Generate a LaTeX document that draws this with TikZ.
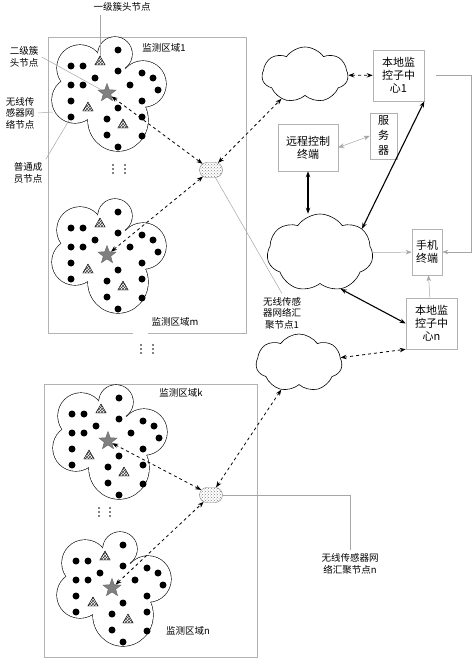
\documentclass[tikz,border=0pt]{standalone}
\usepackage{fontspec}
\setmainfont{Noto Sans CJK SC}
\usetikzlibrary{positioning}
\usetikzlibrary{arrows,arrows.meta,patterns}
\usetikzlibrary{shapes.geometric,shapes.symbols,shapes.misc}

\tikzset{
  sdot/.style={circle,fill=black,inner sep=0pt,minimum size=7pt},
  htri/.style={regular polygon,regular polygon sides=3,draw,line width=0.4pt,
    pattern=crosshatch,pattern color=black!75,inner sep=0pt,minimum size=12pt},
  hstar/.style={star,star points=5,star point ratio=2.4,fill=gray,draw=gray!80!black,
    inner sep=0pt,minimum size=19pt},
  aggnode/.style={rounded rectangle,draw=gray,pattern=crosshatch dots,pattern color=gray,
    minimum width=23pt,minimum height=15pt,inner sep=0pt},
  netcloud/.style={cloud,cloud puffs=7,cloud puff arc=110,draw,line width=0.6pt,inner sep=0pt},
  cbox/.style={draw=gray!60,line width=0.6pt,align=center,inner sep=1pt,
    font=\fontsize{11}{13}\selectfont},
  regbox/.style={draw=gray!60,line width=0.6pt},
  dasharrow/.style={<->,dashed,line width=0.8pt},
  boldarrow/.style={<->,line width=1.1pt},
  grayarrow/.style={->,draw=gray!70,line width=0.5pt},
  leader/.style={draw=gray!70,line width=0.5pt}
}

% one sensor cluster: name, x shift, y shift
\newcommand{\cluster}[3]{%
  \begin{scope}[shift={(#2,#3)}]
    \foreach \cx/\cy/\rad in {115/54/17,80/68/23,75/100/23,143/84/23,108/88/26}
      \draw[line width=1.2pt] (\cx,\cy) circle[radius=\rad];
    \draw[line width=1.2pt] (118,120) ellipse[x radius=30,y radius=31];
    \foreach \cx/\cy/\rad in {115/54/17,80/68/23,75/100/23,143/84/23,108/88/26}
      \fill[white] (\cx,\cy) circle[radius=\rad];
    \fill[white] (118,120) ellipse[x radius=30,y radius=31];
    \coordinate (#1-edge) at (53,112);
    \foreach \px/\py [count=\i] in {118/50,71/66,83/66,118/71,142/73,153/78,95/78,
        71/85,83/85,130/85,158/90,71/101,142/101,118/108,71/117,107/119,142/117,
        107/135,142/136,118/147}
      \node[sdot] (#1-d\i) at (\px,\py) {};
    \foreach \px/\py [count=\i] in {100/62,88/108,123/125}
      \node[htri] (#1-t\i) at (\px,\py) {};
    \node[hstar] (#1) at (107,93) {};
  \end{scope}}

\begin{document}
\begin{tikzpicture}[x=1pt,y=-1pt,>={Stealth[length=6pt,width=4.5pt]},
    font=\fontsize{9.5}{11.5}\selectfont]
\useasboundingbox (0,0) rectangle (474,661);

% monitoring regions
\draw[regbox] (133,333) -- (48,333) -- (48,37) -- (246,37) -- (246,333) -- (148,333);
\draw[regbox] (44,384) rectangle (257,657);

\cluster{c1}{0}{0}
\cluster{cm}{0}{162}
\cluster{ck}{1}{348}
\cluster{cn}{5}{495}

% sink nodes
\node[aggnode] (agg1) at (211,170) {};
\node[aggnode] (aggn) at (211,495) {};

% networks
\node[netcloud,minimum width=86pt,minimum height=56pt] (cloudA) at (305,75) {};
\node[netcloud,minimum width=106pt,minimum height=78pt] (cloudB) at (320,253) {};
\node[netcloud,minimum width=86pt,minimum height=58pt] (cloudC) at (299,363) {};

% centres and terminals
\node[cbox,minimum width=51pt,minimum height=51pt] (local1) at (398.5,75.5) {本地监\\控子中\\心1};
\node[cbox,minimum width=60pt,minimum height=47pt] (remote) at (308,147.5) {远程控制\\终端};
\node[cbox,minimum width=27pt,minimum height=46pt] (server) at (383.5,136) {服\\[2pt]务\\[2pt]器};
\node[cbox,minimum width=30pt,minimum height=46pt] (phone) at (427,252) {手机\\终端};
\node[cbox,minimum width=51pt,minimum height=51pt] (localn) at (431.5,323.5) {本地监\\控子中\\心n};
\coordinate (turn) at (471,75.5);

% labels
\node (lab1) at (122,7) {一级簇头节点};
\node[align=center] (lab2) at (24,57) {二级簇\\头节点};
\node[align=center] (lab3) at (20,113) {无线传\\感器网\\络节点};
\node[align=center] (lab4) at (28,173) {普通成\\员节点};
\node (reg1) at (164,48) {监测区域1};
\node (regm) at (175,322) {监测区域m};
\node (regk) at (181,393) {监测区域k};
\node (regn) at (188,631) {监测区域n};
\node[align=center] (labagg1) at (282,313) {无线传感\\器网络汇\\聚节点1};
\node[align=center] (labaggn) at (350,564) {无线传感器网\\络汇聚节点n};

% vertical ellipses
\foreach \px/\py in {113/169,125/169,141/349,153/349,99/512,110/512}
  \foreach \dy in {-4,0,4}
    \fill (\px,\py+\dy) circle[radius=0.9];

% leader lines
\draw[leader] (lab1.south -| c1-t1) -- (c1-t1.north);
\draw[leader] (lab2.east) -- (c1);
\draw[leader] (lab3.east) -- (c1-edge);
\draw[leader] (lab4.north east) -- (c1-d15);
\draw[leader] (agg1) -- (labagg1.north);
\draw[leader] (aggn.east) -- (aggn.east -| labaggn.north) -- (labaggn.north);

% links
\draw[dasharrow] (c1) -- (agg1);
\draw[dasharrow] (cm) -- (agg1);
\draw[dasharrow] (agg1) -- (cloudA);
\draw[dasharrow] (cloudA) -- (local1);
\draw[grayarrow,<->] (remote.east) -- (server.west);
\draw[boldarrow] (remote.south) -- (cloudB.north -| remote.south);
\draw[boldarrow] (cloudB.30) -- (local1.south east);
\draw[grayarrow] (cloudB) -- (phone);
\draw[grayarrow,shorten <=12pt] (local1.east) -- (turn) |- (phone.east);
\draw[grayarrow] (localn) -- (phone);
\draw[boldarrow] (cloudB.300) -- (localn.west);
\draw[dasharrow] (cloudC) -- (localn.south west);
\draw[dasharrow] (cloudC) -- (aggn);
\draw[dasharrow] (ck) -- (aggn);
\draw[dasharrow] (cn) -- (aggn);
\end{tikzpicture}
\end{document}
